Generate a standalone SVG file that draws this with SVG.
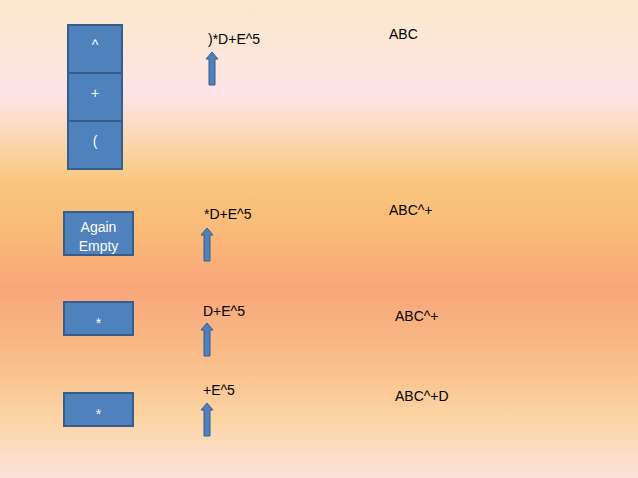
<svg xmlns="http://www.w3.org/2000/svg" width="638" height="478" viewBox="0 0 638 478">
<defs>
<linearGradient id="bg" x1="0" y1="0" x2="0" y2="1">
<stop offset="0" stop-color="#fbe8cc"/>
<stop offset="0.1" stop-color="#fce6d8"/>
<stop offset="0.2" stop-color="#fde3e6"/>
<stop offset="0.28" stop-color="#fbd9b8"/>
<stop offset="0.38" stop-color="#f9c77e"/>
<stop offset="0.5" stop-color="#f9b878"/>
<stop offset="0.6" stop-color="#f8a679"/>
<stop offset="0.75" stop-color="#f9bd8a"/>
<stop offset="0.87" stop-color="#fbd4a2"/>
<stop offset="1" stop-color="#fce2dc"/>
</linearGradient>
<style>
.box{fill:#4f81bd;stroke:#385d8a;stroke-width:2}
.bt{font-family:"Liberation Sans",Arial,sans-serif;font-size:14px;fill:#ffffff;text-anchor:middle}
.t{font-family:"Liberation Sans",Arial,sans-serif;font-size:14px;fill:#000000}
.arrow{fill:#4f81bd;stroke:#385d8a;stroke-width:1}
</style>
</defs>
<rect x="0" y="0" width="638" height="478" fill="url(#bg)"/>

<g id="stack">
<rect class="box" x="68" y="25" width="54" height="48"/>
<rect class="box" x="68" y="73" width="54" height="48"/>
<rect class="box" x="68" y="121" width="54" height="48"/>
<text class="bt" x="95" y="50">^</text>
<text class="bt" x="95" y="98">+</text>
<text class="bt" x="95" y="146">(</text>
</g>

<g id="again-empty">
<rect class="box" x="64" y="212" width="69" height="43"/>
<text class="bt" x="98.5" y="232" font-size="15">Again</text>
<text class="bt" x="98.5" y="251" font-size="15">Empty</text>
</g>

<g id="stack-star-1">
<rect class="box" x="64" y="302" width="69" height="33"/>
<text class="bt" x="98.5" y="328" font-size="8">*</text>
</g>

<g id="stack-star-2">
<rect class="box" x="64" y="393" width="69" height="33"/>
<text class="bt" x="98.5" y="419" font-size="8">*</text>
</g>

<g id="expr-1"><text class="t" x="208" y="44">)*D+E^5</text></g>
<g id="expr-2"><text class="t" x="204" y="219">*D+E^5</text></g>
<g id="expr-3"><text class="t" x="203" y="316">D+E^5</text></g>
<g id="expr-4"><text class="t" x="203" y="395">+E^5</text></g>

<g id="out-1"><text class="t" x="389" y="39">ABC</text></g>
<g id="out-2"><text class="t" x="389" y="215">ABC^+</text></g>
<g id="out-3"><text class="t" x="395" y="321">ABC^+</text></g>
<g id="out-4"><text class="t" x="395" y="401">ABC^+D</text></g>

<g id="connectors">
<path class="arrow" d="M212,52 L218,59 L215,59 L215,85 L209,85 L209,59 L206,59 Z"/>
<path class="arrow" d="M207,228 L213,235 L210,235 L210,261 L204,261 L204,235 L201,235 Z"/>
<path class="arrow" d="M207,323 L213,330 L210,330 L210,356 L204,356 L204,330 L201,330 Z"/>
<path class="arrow" d="M207,403 L213,410 L210,410 L210,436 L204,436 L204,410 L201,410 Z"/>
</g>
</svg>
